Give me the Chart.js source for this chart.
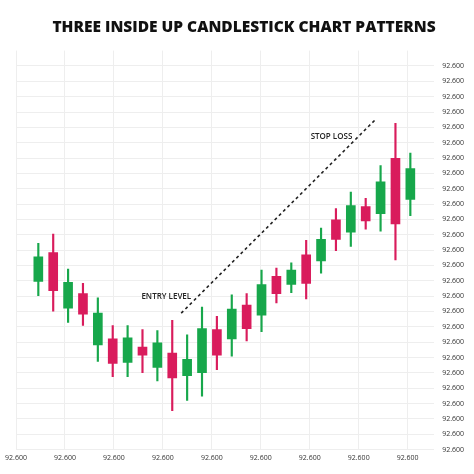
<!DOCTYPE html>
<html><head><meta charset="utf-8">
<script src="https://cdn.jsdelivr.net/npm/chart.js@4/dist/chart.umd.min.js"></script>
<style>html,body{margin:0;padding:0;background:#fff}#w{width:474px;height:474px}</style>
</head><body><div id="w"><canvas id="c"></canvas></div>
<script>
// candle data (price units), index = candle position
const opens  = [198,226,172,186,136,142,119,134,114,128,106,109,151,142,175,165,203,195,224,218,258,246,271,264,318,278];
const closes = [222,189,197,166,167,118,143,126,138,104,122,152,126,171,152,195,186,209,196,239,239,272,257,295,254,308];
const highs  = [235,244,210,196,182,155,155,151,150,160,146,173,164,185,186,209,211,216,238,250,269,285,279,311,352,323];
const lows   = [184,169,158,155,120,105,105,109,101, 72, 82, 86,112,125,140,149,177,187,181,206,228,232,249,247,219,262];
const tradeLine = [{x:9.6,y:167},{x:22.6,y:355}];
const notes = [{text:'ENTRY LEVEL',x:8.6,y:183},{text:'STOP LOSS',x:19.7,y:339}];
const tickLabel = '92.600';
const green='#17a74b', red='#d91c5c';
const idx = opens.map((_,i)=>i);
const cols = idx.map(i=>closes[i]>=opens[i]?green:red);
const noteRect={id:'notes',afterDatasetsDraw(ch){const c=ch.ctx,xs=ch.scales.x,ys=ch.scales.y;c.save();c.font='600 8px "Open Sans"';c.fillStyle='#222';c.textAlign='center';c.textBaseline='middle';notes.forEach(n=>c.fillText(n.text,xs.getPixelForValue(n.x),ys.getPixelForValue(n.y)));c.restore();}};
new Chart(document.getElementById('c'),{
 data:{datasets:[
  {type:'line',data:tradeLine,borderColor:'#222',borderWidth:1.6,borderDash:[3,3],pointRadius:0},
  {type:'bar',grouped:false,data:idx.map(i=>({x:i,y:[lows[i],highs[i]]})),backgroundColor:cols,barThickness:1.5},
  {type:'bar',grouped:false,data:idx.map(i=>({x:i,y:[opens[i],closes[i]]})),backgroundColor:cols,barThickness:9}
 ]},
 options:{responsive:true,maintainAspectRatio:false,animation:false,
  layout:{padding:{left:16,right:2,top:4,bottom:8}},
  plugins:{legend:{display:false},tooltip:{enabled:false},
   title:{display:true,text:'THREE INSIDE UP CANDLESTICK CHART PATTERNS',color:'#111',font:{family:'"Open Sans"',size:15.5,weight:'800'},padding:{top:14,bottom:14}}},
  scales:{
   x:{type:'linear',offset:false,min:-1.5,max:26.6,afterBuildTicks(s){const t=[];for(let v=-1.5;v<=26.6;v+=3.29)t.push({value:v});s.ticks=t;},
      ticks:{callback:()=>tickLabel,font:{size:7,family:'"Open Sans"'},color:'#333',maxRotation:0,padding:4},
      grid:{color:'#eeeeee',drawTicks:false,offset:false},border:{display:false}},
   y:{position:'right',min:34,max:423,afterBuildTicks(s){const t=[];for(let v=34;v<=409;v+=14.96)t.push({value:v});s.ticks=t;},
      ticks:{callback:()=>tickLabel,font:{size:7,family:'"Open Sans"'},color:'#333',padding:8},
      grid:{color:'#eeeeee',drawTicks:false},border:{display:false}}
  }},
 plugins:[noteRect]
});
</script></body></html>
